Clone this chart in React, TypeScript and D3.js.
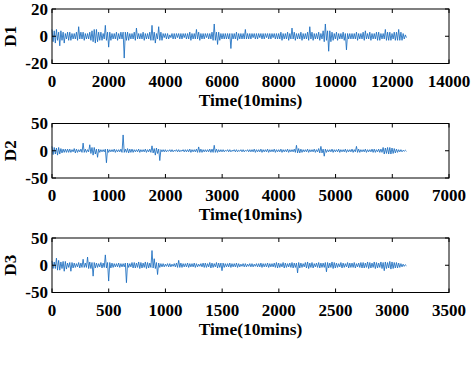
import * as d3 from "d3";

// per-bin upper / lower excursions of each signal
const d1High = [
  5, 4, 5, 3, 4, 3, 2, 3, 3, 2,
  2, 3, 7, 3, 3, 2, 2, 3, 4, 5,
  5, 3, 3, 2, 8, 3, 3, 2, 2, 3,
  2, 3, 3, 3, 3, 2, 2, 3, 6, 2,
  2, 3, 2, 2, 3, 8, 3, 2, 7, 3,
  2, 2, 2, 1, 2, 2, 2, 2, 2, 2,
  2, 2, 3, 2, 2, 5, 3, 2, 2, 2,
  2, 2, 3, 9, 3, 3, 2, 2, 2, 2,
  2, 2, 2, 3, 2, 2, 2, 5, 2, 2,
  2, 2, 2, 2, 2, 2, 2, 2, 2, 2,
  2, 2, 2, 3, 2, 2, 3, 2, 6, 3,
  2, 2, 3, 2, 2, 3, 7, 3, 2, 2,
  3, 2, 4, 9, 4, 4, 3, 2, 3, 2,
  2, 3, 2, 2, 2, 2, 2, 3, 2, 2,
  3, 4, 2, 3, 2, 2, 3, 3, 2, 2,
  5, 3, 3, 2, 3, 3, 5, 3, 2, 1,
];
const d1Low = [
  -4, -5, -3, -7, -3, -5, -2, -3, -3, -2,
  -2, -3, -2, -2, -3, -2, -2, -3, -4, -5,
  -4, -3, -3, -2, -3, -8, -3, -2, -2, -3,
  -2, -2, -16, -3, -3, -2, -2, -3, -2, -2,
  -2, -3, -2, -2, -3, -3, -5, -2, -3, -3,
  -1, -2, -2, -1, -2, -2, -1, -2, -2, -1,
  -2, -2, -3, -2, -2, -2, -3, -2, -2, -1,
  -2, -2, -3, -3, -6, -3, -2, -2, -2, -2,
  -9, -2, -2, -3, -2, -2, -2, -2, -2, -2,
  -1, -2, -2, -1, -2, -2, -1, -2, -2, -1,
  -2, -2, -2, -3, -2, -2, -3, -2, -2, -3,
  -2, -2, -3, -2, -2, -3, -2, -3, -2, -2,
  -3, -2, -4, -3, -11, -4, -3, -2, -3, -2,
  -2, -3, -10, -2, -2, -2, -2, -3, -2, -2,
  -3, -2, -2, -3, -2, -2, -3, -3, -2, -2,
  -3, -3, -3, -2, -3, -3, -3, -3, -2, -1,
];

const d2High = [
  8, 6, 5, 6, 4, 3, 3, 3, 3, 2,
  4, 3, 2, 3, 14, 3, 2, 11, 6, 6,
  3, 3, 2, 2, 3, 3, 2, 2, 3, 2,
  2, 3, 29, 3, 4, 3, 3, 2, 2, 3,
  2, 2, 3, 2, 3, 9, 4, 5, 3, 2,
  2, 2, 1, 2, 2, 1, 2, 2, 1, 2,
  2, 2, 3, 2, 2, 3, 7, 3, 2, 2,
  2, 3, 3, 10, 3, 2, 2, 2, 1, 2,
  2, 1, 2, 2, 1, 2, 2, 1, 2, 2,
  2, 3, 2, 2, 3, 2, 2, 3, 2, 2,
  3, 2, 2, 3, 2, 2, 3, 2, 2, 3,
  10, 4, 3, 2, 2, 3, 2, 2, 3, 2,
  4, 8, 3, 3, 2, 2, 3, 2, 2, 3,
  2, 2, 3, 2, 2, 3, 2, 8, 3, 2,
  2, 3, 2, 2, 3, 3, 2, 3, 3, 6,
  5, 6, 6, 5, 4, 3, 2, 2, 1, 1,
];
const d2Low = [
  -7, -6, -8, -6, -4, -3, -3, -3, -3, -2,
  -4, -3, -2, -3, -3, -3, -2, -5, -8, -6,
  -12, -3, -2, -2, -22, -3, -2, -2, -3, -2,
  -2, -3, -3, -3, -4, -3, -3, -2, -2, -3,
  -2, -2, -3, -2, -3, -4, -8, -5, -18, -2,
  -2, -2, -1, -2, -2, -1, -2, -2, -1, -2,
  -2, -2, -3, -2, -2, -3, -3, -3, -2, -2,
  -2, -3, -3, -3, -3, -2, -2, -2, -1, -2,
  -2, -1, -2, -2, -1, -2, -2, -1, -2, -2,
  -2, -3, -2, -2, -3, -2, -2, -3, -2, -2,
  -3, -2, -2, -3, -2, -2, -3, -2, -2, -3,
  -4, -4, -3, -2, -2, -3, -2, -2, -3, -2,
  -4, -4, -10, -3, -2, -2, -3, -2, -2, -3,
  -2, -2, -3, -2, -2, -3, -2, -3, -3, -2,
  -2, -3, -2, -2, -3, -3, -2, -3, -3, -6,
  -5, -6, -6, -5, -4, -3, -2, -2, -1, -1,
];

const d3High = [
  8, 6, 13, 9, 6, 7, 7, 4, 5, 5,
  4, 3, 5, 4, 11, 4, 15, 6, 5, 5,
  4, 3, 5, 4, 19, 5, 5, 4, 3, 3,
  4, 3, 3, 4, 4, 3, 5, 5, 4, 6,
  5, 4, 6, 5, 4, 27, 12, 5, 4, 3,
  3, 2, 3, 3, 2, 3, 4, 9, 4, 3,
  3, 4, 3, 3, 4, 3, 2, 3, 4, 4,
  3, 5, 4, 3, 5, 4, 4, 4, 3, 3,
  4, 3, 3, 4, 3, 2, 3, 3, 2, 3,
  3, 2, 3, 3, 4, 3, 3, 4, 3, 3,
  4, 5, 4, 3, 5, 4, 3, 4, 5, 4,
  4, 5, 4, 3, 5, 6, 4, 5, 3, 4,
  5, 4, 4, 5, 5, 4, 6, 5, 4, 3,
  5, 4, 3, 5, 4, 4, 5, 3, 4, 5,
  5, 4, 6, 5, 4, 6, 5, 4, 6, 5,
  6, 5, 7, 6, 5, 5, 4, 3, 2, 1,
];
const d3Low = [
  -6, -6, -9, -9, -6, -11, -7, -4, -11, -5,
  -4, -3, -5, -4, -4, -4, -6, -6, -20, -5,
  -4, -3, -5, -4, -5, -29, -5, -4, -3, -3,
  -4, -3, -3, -32, -4, -3, -5, -5, -4, -6,
  -5, -4, -6, -5, -4, -5, -6, -17, -4, -3,
  -3, -2, -3, -3, -2, -3, -4, -4, -4, -3,
  -3, -4, -3, -3, -4, -3, -2, -3, -4, -4,
  -3, -5, -4, -3, -5, -4, -10, -4, -3, -3,
  -4, -3, -3, -4, -3, -2, -3, -3, -2, -3,
  -3, -2, -3, -3, -4, -3, -3, -4, -3, -3,
  -4, -5, -4, -3, -5, -4, -3, -4, -5, -4,
  -14, -5, -4, -3, -5, -6, -4, -5, -3, -4,
  -5, -4, -4, -12, -5, -4, -6, -5, -4, -3,
  -5, -4, -3, -5, -4, -4, -5, -3, -4, -5,
  -5, -4, -6, -5, -4, -6, -5, -4, -6, -10,
  -6, -5, -7, -6, -5, -5, -4, -3, -2, -1,
];

const seriesNames = ["D1", "D2", "D3"];
const seriesEnds = [12500, 6250, 3125]; // last time index
const xMaxes = [14000, 7000, 3500];
const xTickSteps = [2000, 1000, 500];
const yLimits = [20, 50, 50];
const xLabel = "Time(10mins)";

const W = 474;
const H = 366;
const left = 52;
const right = 449;
const panelTops = [9, 123.5, 238];
const panelH = 54.5;
const font = "'Liberation Serif', 'Times New Roman', serif";
const lineColor = "#1a6dbf";

type Pt = { t: number; v: number };

function Panel({ idx, high, low }: { idx: number; high: number[]; low: number[] }) {
  const top = panelTops[idx];
  const bottom = top + panelH;
  const x = d3.scaleLinear().domain([0, xMaxes[idx]]).range([left, right]);
  const y = d3.scaleLinear().domain([-yLimits[idx], yLimits[idx]]).range([bottom, top]);
  const step = seriesEnds[idx] / (high.length - 0.5);

  // signal swings up then down inside each bin
  const pts: Pt[] = [];
  high.forEach((h, i) => {
    pts.push({ t: i * step, v: h });
    pts.push({ t: (i + 0.5) * step, v: low[i] });
  });
  const line = d3
    .line<Pt>()
    .x((d) => x(d.t))
    .y((d) => y(d.v));

  const xTicks = d3.range(0, xMaxes[idx] + 1, xTickSteps[idx]);
  const yTicks = [-yLimits[idx], 0, yLimits[idx]];
  const tl = 4;

  return (
    <g>
      <path d={line(pts) || ""} fill="none" stroke={lineColor} strokeWidth={0.85} />
      <rect x={left} y={top} width={right - left} height={panelH} fill="none" stroke="#000" strokeWidth={1} />
      {xTicks.map((t) => (
        <g key={"x" + t}>
          <line x1={x(t)} x2={x(t)} y1={bottom} y2={bottom - tl} stroke="#000" />
          <line x1={x(t)} x2={x(t)} y1={top} y2={top + tl} stroke="#000" />
          <text x={x(t)} y={bottom + 23} textAnchor="middle" fontSize={17} fontWeight="bold" fontFamily={font}>
            {t}
          </text>
        </g>
      ))}
      {yTicks.map((t) => (
        <g key={"y" + t}>
          <line x1={left} x2={left + tl} y1={y(t)} y2={y(t)} stroke="#000" />
          <line x1={right} x2={right - tl} y1={y(t)} y2={y(t)} stroke="#000" />
          <text x={48} y={y(t)} dy="0.35em" textAnchor="end" fontSize={17} fontWeight="bold" fontFamily={font}>
            {t}
          </text>
        </g>
      ))}
      <text
        transform={`translate(16,${(top + bottom) / 2}) rotate(-90)`}
        textAnchor="middle"
        fontSize={17}
        fontWeight="bold"
        fontFamily={font}
      >
        {seriesNames[idx]}
      </text>
      <text x={(left + right) / 2} y={bottom + 42} textAnchor="middle" fontSize={17.5} fontWeight="bold" fontFamily={font}>
        {xLabel}
      </text>
    </g>
  );
}

export default function App() {
  const highs = [d1High, d2High, d3High];
  const lows = [d1Low, d2Low, d3Low];
  return (
    <svg width={W} height={H} style={{ position: "absolute", left: 0, top: 0, background: "#fff" }}>
      {highs.map((h, i) => (
        <Panel key={i} idx={i} high={h} low={lows[i]} />
      ))}
    </svg>
  );
}
